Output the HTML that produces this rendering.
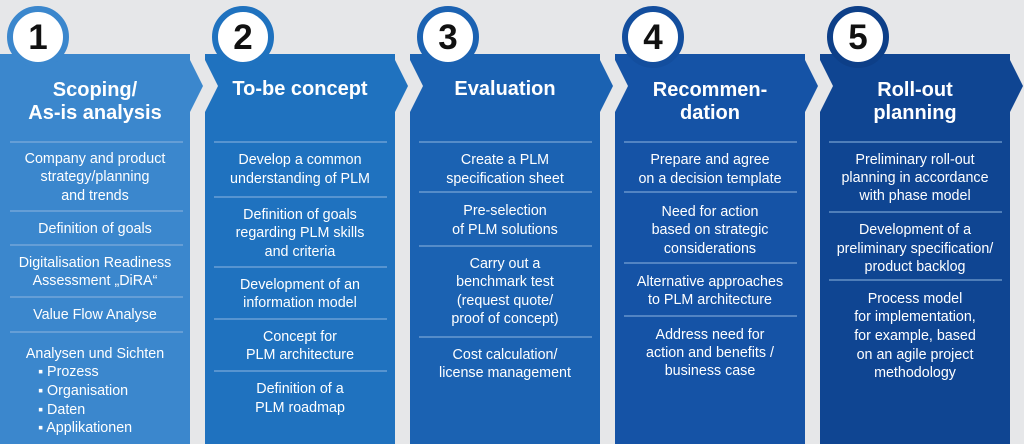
<!DOCTYPE html>
<html><head><meta charset="utf-8"><style>
html,body{margin:0;padding:0;background:#e6e7e9;}
svg{display:block}
text{font-family:"Liberation Sans",sans-serif;fill:#fff;text-anchor:middle}
.h{font-weight:bold;font-size:20px}
.b{font-size:14.3px}
.n{font-weight:bold;font-size:35px;fill:#111}
line{stroke:#8fb6e0;stroke-width:1}
</style></head><body>
<svg width="1024" height="444" viewBox="0 0 1024 444" xmlns="http://www.w3.org/2000/svg">
<rect width="1024" height="444" fill="#e6e7e9"/>
<polygon fill="#3b87cd" points="0,54 190,54 190,60 203,86 190,112 190,444 0,444"/>
<polygon fill="#1f72bf" points="205,54 395,54 395,60 408,86 395,112 395,444 205,444 205,112 218,86 205,60"/>
<polygon fill="#1b62b2" points="410,54 600,54 600,60 613,86 600,112 600,444 410,444 410,112 423,86 410,60"/>
<polygon fill="#1553a6" points="615,54 805,54 805,60 818,86 805,112 805,444 615,444 615,112 628,86 615,60"/>
<polygon fill="#0f4592" points="820,54 1010,54 1010,60 1023,86 1010,112 1010,444 820,444 820,112 833,86 820,60"/>
<circle cx="38" cy="37" r="28" fill="#fff" stroke="#3b87cd" stroke-width="6"/>
<circle cx="243" cy="37" r="28" fill="#fff" stroke="#1f72bf" stroke-width="6"/>
<circle cx="448" cy="37" r="28" fill="#fff" stroke="#1b62b2" stroke-width="6"/>
<circle cx="653" cy="37" r="28" fill="#fff" stroke="#134e9e" stroke-width="6"/>
<circle cx="858" cy="37" r="28" fill="#fff" stroke="#0d3f88" stroke-width="6"/>
<text class="n" x="38" y="49">1</text>
<text class="n" x="243" y="49">2</text>
<text class="n" x="448" y="49">3</text>
<text class="n" x="653" y="49">4</text>
<text class="n" x="858" y="49">5</text>
<text class="h" x="95" y="96">Scoping/</text>
<text class="h" x="95" y="119">As-is analysis</text>
<text class="h" x="300" y="95">To-be concept</text>
<text class="h" x="505" y="95">Evaluation</text>
<text class="h" x="710" y="96">Recommen-</text>
<text class="h" x="710" y="119">dation</text>
<text class="h" x="915" y="96">Roll-out</text>
<text class="h" x="915" y="119">planning</text>
<line x1="10" y1="142" x2="183" y2="142"/>
<text class="b" x="95" y="163">Company and product</text>
<text class="b" x="95" y="181">strategy/planning</text>
<text class="b" x="95" y="200">and trends</text>
<line x1="10" y1="211" x2="183" y2="211"/>
<text class="b" x="95" y="233">Definition of goals</text>
<line x1="10" y1="245" x2="183" y2="245"/>
<text class="b" x="95" y="267">Digitalisation Readiness</text>
<text class="b" x="95" y="285">Assessment „DiRA“</text>
<line x1="10" y1="297" x2="183" y2="297"/>
<text class="b" x="95" y="319">Value Flow Analyse</text>
<line x1="10" y1="332" x2="183" y2="332"/>
<text class="b" x="95" y="358">Analysen und Sichten</text>
<text class="b" x="38" y="376" style="text-anchor:start">▪ Prozess</text>
<text class="b" x="38" y="395" style="text-anchor:start">▪ Organisation</text>
<text class="b" x="38" y="414" style="text-anchor:start">▪ Daten</text>
<text class="b" x="38" y="432" style="text-anchor:start">▪ Applikationen</text>
<line x1="214" y1="142" x2="387" y2="142"/>
<text class="b" x="300" y="164">Develop a common</text>
<text class="b" x="300" y="183">understanding of PLM</text>
<line x1="214" y1="197" x2="387" y2="197"/>
<text class="b" x="300" y="219">Definition of goals</text>
<text class="b" x="300" y="237">regarding PLM skills</text>
<text class="b" x="300" y="256">and criteria</text>
<line x1="214" y1="267" x2="387" y2="267"/>
<text class="b" x="300" y="289">Development of an</text>
<text class="b" x="300" y="307">information model</text>
<line x1="214" y1="319" x2="387" y2="319"/>
<text class="b" x="300" y="341">Concept for</text>
<text class="b" x="300" y="359">PLM architecture</text>
<line x1="214" y1="371" x2="387" y2="371"/>
<text class="b" x="300" y="393">Definition of a</text>
<text class="b" x="300" y="412">PLM roadmap</text>
<line x1="419" y1="142" x2="592" y2="142"/>
<text class="b" x="505" y="164">Create a PLM</text>
<text class="b" x="505" y="183">specification sheet</text>
<line x1="419" y1="192" x2="592" y2="192"/>
<text class="b" x="505" y="215">Pre-selection</text>
<text class="b" x="505" y="234">of PLM solutions</text>
<line x1="419" y1="246" x2="592" y2="246"/>
<text class="b" x="505" y="268">Carry out a</text>
<text class="b" x="505" y="286">benchmark test</text>
<text class="b" x="505" y="305">(request quote/</text>
<text class="b" x="505" y="323">proof of concept)</text>
<line x1="419" y1="337" x2="592" y2="337"/>
<text class="b" x="505" y="359">Cost calculation/</text>
<text class="b" x="505" y="377">license management</text>
<line x1="624" y1="142" x2="797" y2="142"/>
<text class="b" x="710" y="164">Prepare and agree</text>
<text class="b" x="710" y="183">on a decision template</text>
<line x1="624" y1="192" x2="797" y2="192"/>
<text class="b" x="710" y="216">Need for action</text>
<text class="b" x="710" y="234">based on strategic</text>
<text class="b" x="710" y="253">considerations</text>
<line x1="624" y1="263" x2="797" y2="263"/>
<text class="b" x="710" y="286">Alternative approaches</text>
<text class="b" x="710" y="304">to PLM architecture</text>
<line x1="624" y1="316" x2="797" y2="316"/>
<text class="b" x="710" y="339">Address need for</text>
<text class="b" x="710" y="357">action and benefits /</text>
<text class="b" x="710" y="375">business case</text>
<line x1="829" y1="142" x2="1002" y2="142"/>
<text class="b" x="915" y="164">Preliminary roll-out</text>
<text class="b" x="915" y="182">planning in accordance</text>
<text class="b" x="915" y="200">with phase model</text>
<line x1="829" y1="212" x2="1002" y2="212"/>
<text class="b" x="915" y="234">Development of a</text>
<text class="b" x="915" y="253">preliminary specification/</text>
<text class="b" x="915" y="271">product backlog</text>
<line x1="829" y1="280" x2="1002" y2="280"/>
<text class="b" x="915" y="303">Process model</text>
<text class="b" x="915" y="321">for implementation,</text>
<text class="b" x="915" y="340">for example, based</text>
<text class="b" x="915" y="359">on an agile project</text>
<text class="b" x="915" y="377">methodology</text>
</svg>
</body></html>
